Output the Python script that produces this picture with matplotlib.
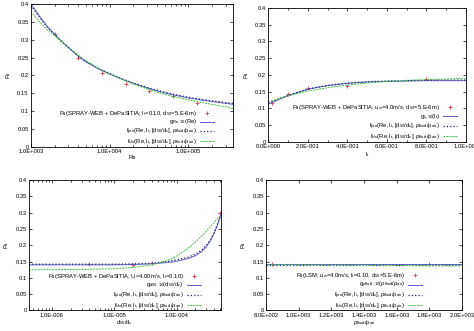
import matplotlib
matplotlib.use("Agg")
import matplotlib.pyplot as plt
from matplotlib.ticker import FuncFormatter, MultipleLocator, LogLocator, FixedLocator
import numpy as np

plt.rcParams["font.family"] = ["Liberation Sans", "DejaVu Sans"]
plt.rcParams["mathtext.fontset"] = "custom"
plt.rcParams["mathtext.rm"] = "Liberation Sans"
plt.rcParams["mathtext.it"] = "Liberation Sans"
plt.rcParams["mathtext.default"] = "regular"

# --- top-left: P_d against Reynolds number ---
re_pts = [2000, 4000, 8000, 16000, 32000, 64000, 128000]
pd_re_pts = [0.315, 0.25, 0.207, 0.176, 0.156, 0.142, 0.123]
re_curve = [1000, 1300, 1600, 2000, 2500, 3000, 4000, 5000, 7000, 10000, 15000,
            20000, 30000, 50000, 70000, 100000, 150000, 200000, 300000, 370000]
g_re = [0.400, 0.365, 0.338, 0.316, 0.294, 0.278, 0.254, 0.238, 0.220, 0.204, 0.188,
        0.178, 0.165, 0.151, 0.144, 0.137, 0.131, 0.127, 0.122, 0.119]
fpro_re = [0.396, 0.362, 0.336, 0.314, 0.293, 0.278, 0.254, 0.239, 0.221, 0.205, 0.189,
           0.179, 0.166, 0.153, 0.146, 0.139, 0.133, 0.129, 0.124, 0.122]
fcls_re = [0.378, 0.350, 0.329, 0.311, 0.293, 0.279, 0.257, 0.241, 0.222, 0.205, 0.187,
           0.176, 0.162, 0.147, 0.139, 0.132, 0.124, 0.119, 0.112, 0.107]

# --- top-right: P_d against turbulence intensity ---
lt_pts = [0.02, 0.1, 0.2, 0.4, 0.8]
pd_lt_pts = [0.115, 0.142, 0.160, 0.168, 0.187]
lt_curve = [0.0, 0.05, 0.1, 0.15, 0.2, 0.25, 0.3, 0.4, 0.5, 0.6, 0.7, 0.8, 0.9, 1.0]
g_lt = [0.113, 0.126, 0.138, 0.148, 0.157, 0.163, 0.168, 0.175, 0.179, 0.181, 0.182,
        0.183, 0.183, 0.183]
fpro_lt = [0.115, 0.127, 0.139, 0.149, 0.158, 0.164, 0.169, 0.176, 0.180, 0.182, 0.183,
           0.184, 0.185, 0.185]
fcls_lt = [0.120, 0.129, 0.138, 0.145, 0.152, 0.157, 0.162, 0.170, 0.176, 0.181, 0.184,
           0.186, 0.188, 0.190]

# --- bottom-left: P_d against particle/collector size ratio ---
dr_pts = [4e-6, 2e-5, 4e-5, 5e-4]
pd_dr_pts = [0.142, 0.140, 0.145, 0.300]
dr_curve = [4.3e-7, 1e-6, 3e-6, 1e-5, 2e-5, 4e-5, 7e-5, 1e-4, 1.5e-4, 2e-4,
            2.5e-4, 3e-4, 3.5e-4, 4e-4, 4.5e-4, 5.1e-4]
g_dr = [0.140, 0.140, 0.140, 0.140, 0.141, 0.143, 0.147, 0.151, 0.159, 0.168,
        0.180, 0.196, 0.215, 0.238, 0.263, 0.295]
fpro_dr = [0.142, 0.142, 0.142, 0.142, 0.143, 0.145, 0.150, 0.155, 0.163, 0.173,
           0.185, 0.200, 0.218, 0.240, 0.264, 0.292]
fcls_dr = [0.125, 0.125, 0.126, 0.128, 0.132, 0.140, 0.153, 0.167, 0.190, 0.210,
           0.228, 0.244, 0.258, 0.271, 0.282, 0.292]

# --- bottom-right: P_d against density ratio ---
rho_pts = [840, 1800]
pd_rho_pts = [0.142, 0.143]
rho_curve = [800, 1000, 1200, 1400, 1600, 1800, 2000]
g_rho = [0.142, 0.142, 0.142, 0.142, 0.142, 0.142, 0.142]
fpro_rho = [0.141, 0.141, 0.141, 0.141, 0.141, 0.141, 0.141]
fcls_rho = [0.140, 0.1395, 0.139, 0.1385, 0.138, 0.1375, 0.137]

rho_ticks = [800, 1000, 1200, 1400, 1600, 1800, 2000]
rho_labels = ["8.0E+002", "1.0E+003", "1.2E+003", "1.4E+003", "1.6E+003",
              "1.8E+003", "2.0E+003"]

c_pts = "#d04050"
c_g = "#6060c8"
c_pro = "#202070"
c_cls = "#40c040"
fs = 4.2


def sci_fmt(v, pos):
    if v == 0:
        return "0.0E+000"
    e = int(np.floor(np.log10(abs(v)) + 1e-9))
    m = v / 10 ** e
    return f"{m:.1f}E{e:+04d}"


def style(ax, logx=False):
    if logx:
        ax.set_xscale("log")
        ax.xaxis.set_major_locator(LogLocator(base=10))
        ax.xaxis.set_minor_locator(LogLocator(base=10, subs=np.arange(2, 10)))
        ax.xaxis.set_minor_formatter(FuncFormatter(lambda v, p: ""))
    ax.xaxis.set_major_formatter(FuncFormatter(sci_fmt))
    ax.set_ylim(0, 0.4)
    ax.yaxis.set_major_locator(MultipleLocator(0.05))
    ax.yaxis.set_major_formatter(FuncFormatter(lambda v, p: f"{v:g}"))
    ax.tick_params(which="both", direction="in", top=True, right=True,
                   labelsize=fs, width=0.5, pad=1.5)
    ax.tick_params(which="major", length=2.5)
    ax.tick_params(which="minor", length=1.3)
    for s in ax.spines.values():
        s.set_linewidth(0.6)
    ax.set_ylabel("$P_d$", fontsize=fs, labelpad=3)


def draw(ax, xp, yp, xc, g, fpro, fcls, labels, anchor_x):
    ax.plot(xp, yp, "+", color=c_pts, ms=3, mew=0.6, label=labels[0])
    ax.plot(xc, g, "-", color=c_g, lw=0.7, label=labels[1])
    ax.plot(xc, fpro, ":", color=c_pro, lw=0.9, label=labels[2])
    ax.plot(xc, fcls, "--", color=c_cls, lw=0.7, dashes=(2, 1), label=labels[3])
    ax.legend(loc="lower right", bbox_to_anchor=(anchor_x, 0.0), frameon=False,
              markerfirst=False, fontsize=fs, handlelength=2.4,
              labelspacing=0.02, handletextpad=0.6, borderpad=0.1,
              borderaxespad=0.0)


fpro_lab = r"$f_{pro}(Re,l_t,[d_{50}/d_c],\rho_{fluid}/\rho_{air})$"
fcls_lab = r"$f_{cls}(Re,l_t,[d_{50}/d_c],\rho_{fluid}/\rho_{air})$"

fig = plt.figure(figsize=(4.74, 3.31), dpi=100)

ax1 = fig.add_axes([0.065, 0.556, 0.427, 0.432])
draw(ax1, re_pts, pd_re_pts, re_curve, g_re, fpro_re, fcls_re,
     [r"$P_d$(SPRAY-WEB + DePaSITIA; $l_t$=0.10, $d_{50}$=5.E-6m)",
      r"$g_{Re,10}(Re)$", fpro_lab, fcls_lab], 0.91)
style(ax1, logx=True)
ax1.set_xlim(1000, 3.7e5)
ax1.set_xlabel("Re", fontsize=fs, labelpad=1)

ax2 = fig.add_axes([0.566, 0.571, 0.417, 0.405])
draw(ax2, lt_pts, pd_lt_pts, lt_curve, g_lt, fpro_lt, fcls_lt,
     [r"$P_d$(SPRAY-WEB + DePaSITIA; $u_\infty$=4.0m/s, $d_{50}$=5.E-6m)",
      r"$g_{l_t,10}(l_t)$", fpro_lab, fcls_lab], 0.96)
style(ax2)
ax2.set_xlim(0, 1)
ax2.xaxis.set_major_locator(MultipleLocator(0.2))
ax2.xaxis.set_minor_locator(MultipleLocator(0.1))
ax2.set_xlabel("$l_t$", fontsize=fs, labelpad=1)

ax3 = fig.add_axes([0.061, 0.062, 0.405, 0.394])
draw(ax3, dr_pts, pd_dr_pts, dr_curve, g_dr, fpro_dr, fcls_dr,
     [r"$P_d$(SPRAY-WEB + DePaSITIA; U=4.00m/s, $l_t$=0.10)",
      r"$g_{d50,10}(d_{50}/d_c)$", fpro_lab, fcls_lab], 0.90)
style(ax3, logx=True)
ax3.set_xlim(4.3e-7, 5.1e-4)
ax3.set_xlabel("$d_{50}/d_c$", fontsize=fs, labelpad=0.5)

ax4 = fig.add_axes([0.561, 0.062, 0.414, 0.394])
draw(ax4, rho_pts, pd_rho_pts, rho_curve, g_rho, fpro_rho, fcls_rho,
     [r"$P_d$(LSM; $u_\infty$=4.0m/s, $l_t$=0.10, $d_{50}$=5.E-6m)",
      r"$g_{\rho fluid,10}(\rho_{fluid}/\rho_{air})$", fpro_lab, fcls_lab], 0.80)
style(ax4)
ax4.set_xlim(800, 2000)
ax4.xaxis.set_major_locator(FixedLocator(rho_ticks))
ax4.set_xticklabels(rho_labels)
ax4.set_xlabel(r"$\rho_{fluid}/\rho_{air}$", fontsize=fs, labelpad=0.5)

fig.savefig("out.png", dpi=100)
